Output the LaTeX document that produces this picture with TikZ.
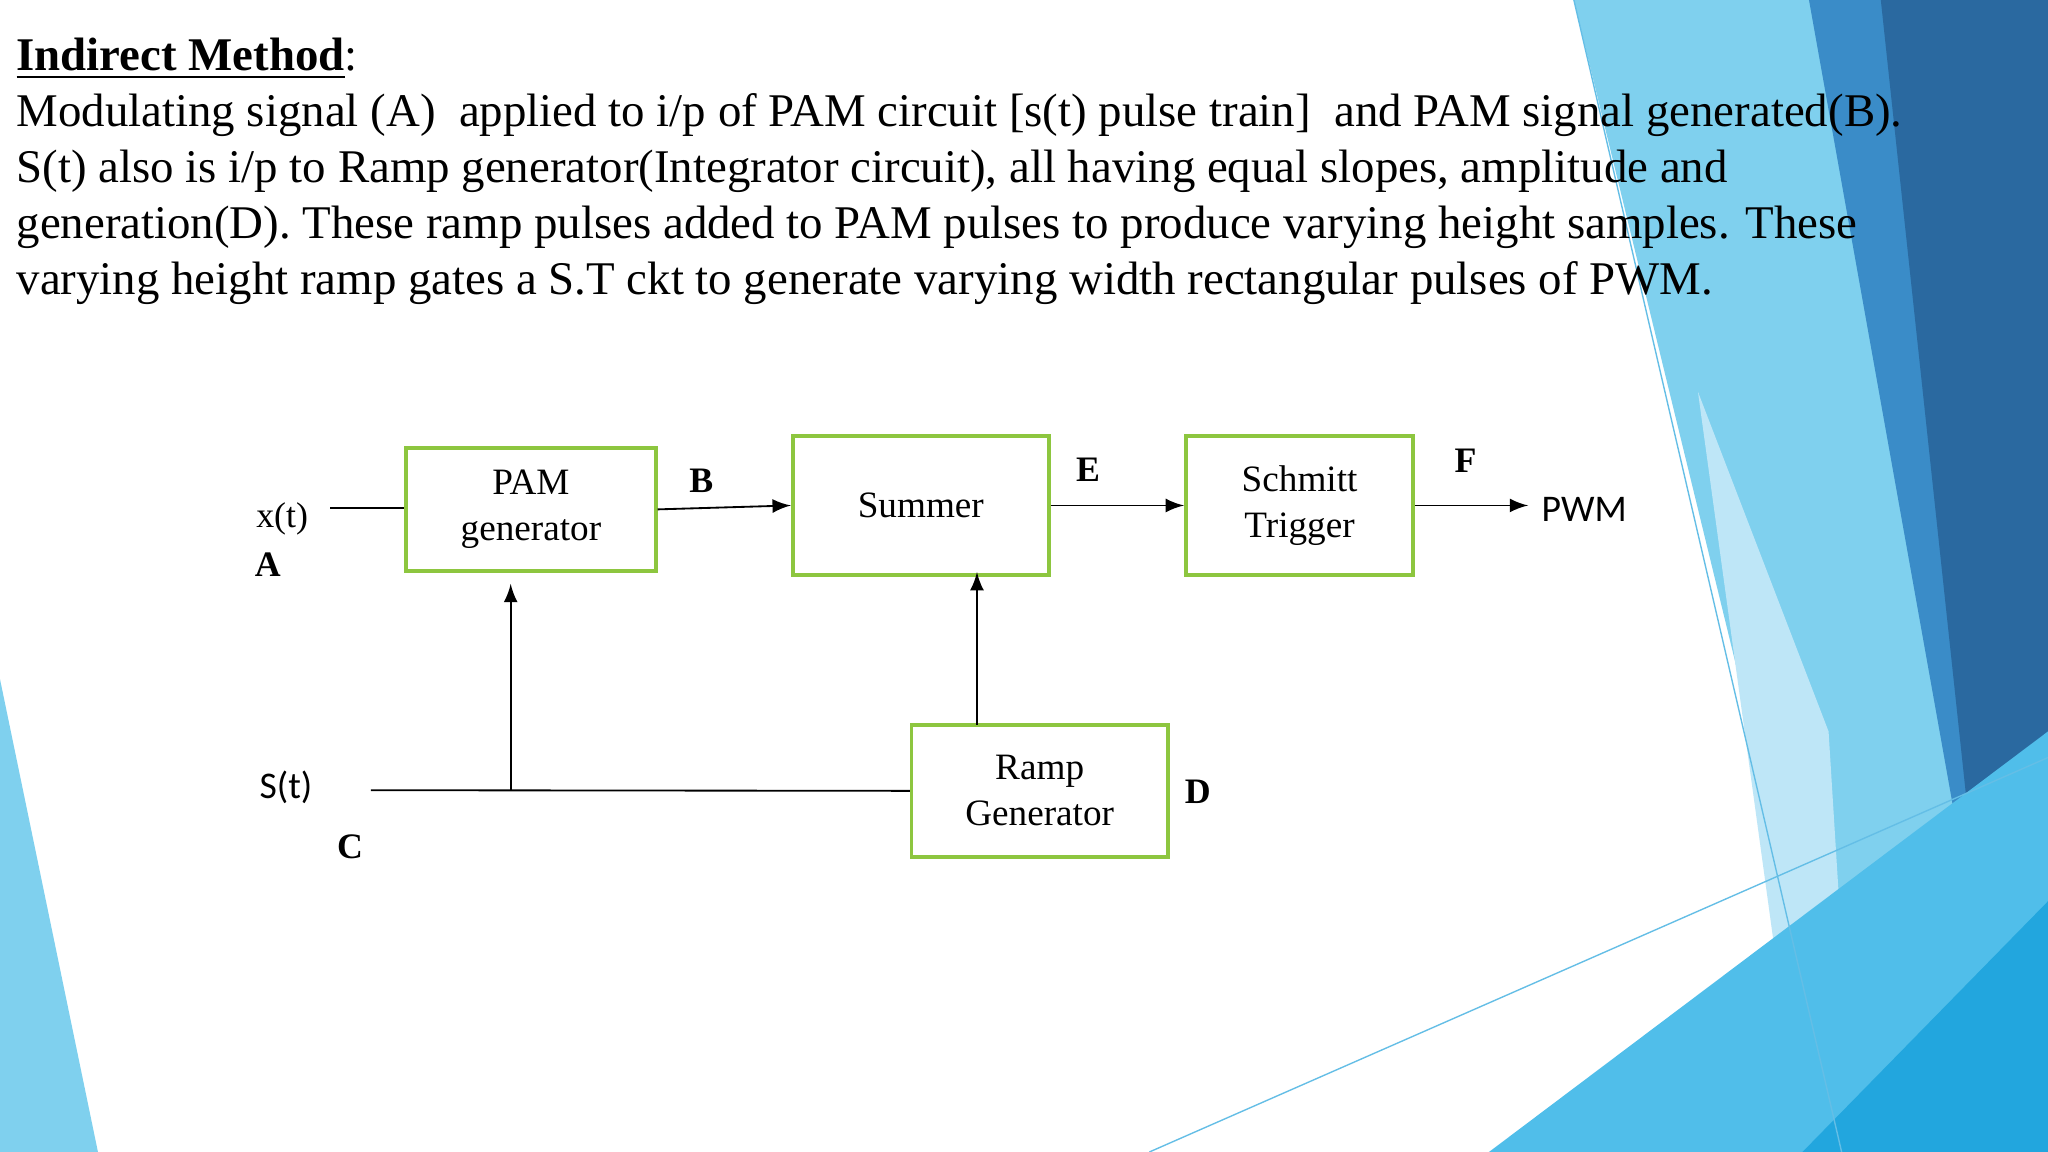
\documentclass[tikz,border=0pt]{standalone}
\usepackage{fontspec}
\setmainfont{Liberation Serif}
\newfontfamily\sansf{Carlito}
\begin{document}
\begin{tikzpicture}[x=0.01cm,y=-0.01cm,
  blk/.style={draw=boxg, line width=0.8pt, minimum width=#1, inner sep=0pt, align=center, font=\fontsize{8.1}{10}\selectfont},
  arr/.style={-latex, line width=0.4pt},
  lab/.style={font=\fontsize{7.8}{9}\selectfont},
  bl/.style={font=\fontsize{7.8}{9}\selectfont\bfseries},
  tx/.style={anchor=west, inner sep=0pt, font=\fontsize{10.2}{11}\selectfont}]
\definecolor{boxg}{HTML}{8DC63F}
\useasboundingbox (0,0) rectangle (1568,882);
% background
\fill[white] (0,0) rectangle (1568,882);
\fill[color={rgb,255:red,127;green,208;blue,238}] (1205,0)--(1568,0)--(1568,882)--(1420,882)--cycle;
\fill[color={rgb,255:red,190;green,230;blue,247}] (1300,300)--(1400,560)--(1420,882)--(1380,882)--cycle;
\fill[color={rgb,255:red,58;green,140;blue,200}] (1385,0)--(1568,0)--(1568,700)--(1510,700)--cycle;
\fill[color={rgb,255:red,42;green,105;blue,160}] (1440,0)--(1568,0)--(1568,620)--(1515,700)--cycle;
\fill[color={rgb,255:red,80;green,190;blue,234}] (1140,882)--(1568,560)--(1568,882)--cycle;
\fill[color={rgb,255:red,34;green,166;blue,222}] (1380,882)--(1568,690)--(1568,882)--cycle;
\fill[color={rgb,255:red,127;green,208;blue,238}] (0,520)--(75,882)--(0,882)--cycle;
\draw[color={rgb,255:red,100;green,190;blue,230}, line width=0.3pt] (880,882)--(1568,580);
\draw[color={rgb,255:red,100;green,190;blue,230}, line width=0.3pt] (1205,0)--(1410,882);
% text
\node[tx] (t0) at (12,45) {\textbf{\underline{Indirect Method}}:};
\node[tx] (t1) at (12,88) {Modulating signal (A)\ \ applied to i/p of PAM circuit [s(t) pulse train]\ \ and PAM signal generated(B).};
\node[tx] (t2) at (12,131) {S(t) also is i/p to Ramp generator(Integrator circuit), all having equal slopes, amplitude and};
\node[tx] (t3) at (12,174) {generation(D). These ramp pulses added to PAM pulses to produce varying height samples. These};
\node[tx] (t4) at (12,217) {varying height ramp gates a S.T ckt to generate varying width rectangular pulses of PWM.};
% blocks
\node[blk=1.91cm, minimum height=0.94cm] (pam) at (406.5,390) {PAM\\generator};
\node[blk=1.96cm, minimum height=1.06cm] (sum) at (705,387) {Summer};
\node[blk=1.74cm, minimum height=1.06cm] (st) at (995,387) {Schmitt\\Trigger};
\node[blk=1.96cm, minimum height=1.01cm] (ramp) at (796,605.5) {Ramp\\Generator};
% labels
\node[lab] (xt) at (216,397) {x(t)};
\node[bl] (A) at (205,432) {A};
\node[bl] (B) at (537,368) {B};
\node[bl] (E) at (833,360) {E};
\node[bl] (F) at (1122,353) {F};
\node[font=\sansf\fontsize{8.2}{9}\selectfont] (pwm) at (1213,390) {PWM};
\node[font=\sansf\fontsize{8.2}{9}\selectfont] (s) at (219,603) {S(t)};
\node[bl] (C) at (268,648) {C};
\node[bl] (D) at (917,606) {D};
% connectors
\coordinate (xin) at (253,389);
\coordinate (sin) at (284,605);
\coordinate (tap) at (391,605);
\coordinate (pwmend) at (1170,387);
\draw[line width=0.4pt] (xin) -- (xin -| pam.west);
\draw[arr] (pam.east) -- (sum.west);
\draw[arr] (sum.east) -- (st.west);
\draw[arr] (st.east) -- (pwmend);
\draw[line width=0.4pt] (sin) -- (ramp.west);
\draw[arr] (tap) -- (391,447);
\draw[arr] (748,555) -- (748,438);
\end{tikzpicture}
\end{document}
